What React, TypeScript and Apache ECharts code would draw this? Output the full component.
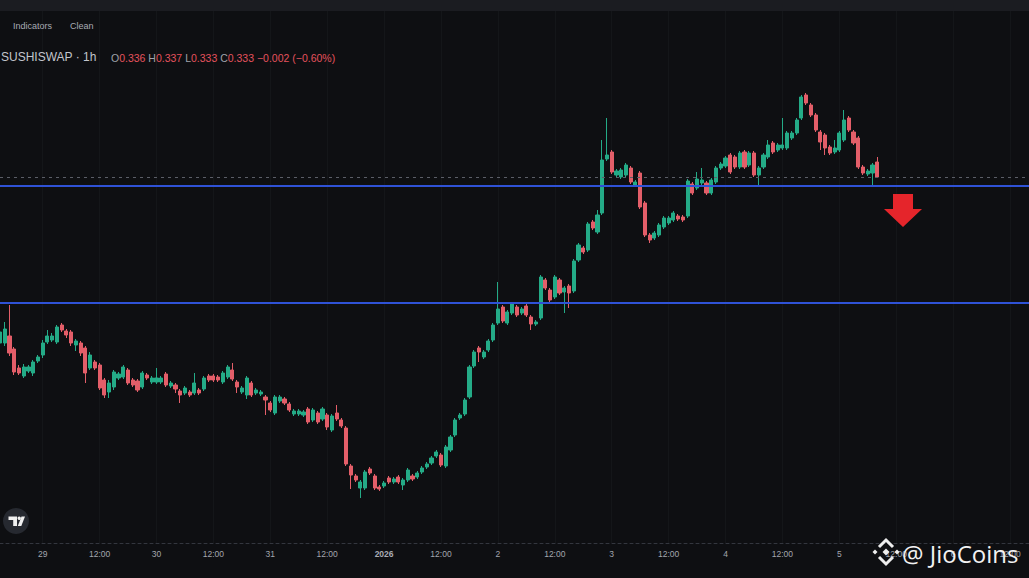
import React, { useEffect, useRef } from 'react';
import * as echarts from 'echarts';

// ---- header texts ----
const SYMBOL = 'SUSHISWAP · 1h';
const TOOLBAR = ['Indicators', 'Clean'];
const HEADER_KEYS = ['O', 'H', 'L', 'C'];
const HEADER_VALS = ['0.336', '0.337', '0.333', '0.333'];
const HEADER_CHANGE = '−0.002 (−0.60%)';

// ---- x axis (hourly slots, first slot = Dec 28 15:00) ----
const TOTAL_SLOTS = 218;
const FIRST_TICK = 9;
const TICK_STEP = 12;
const tickLabels = ['29', '12:00', '30', '12:00', '31', '12:00', '2026', '12:00', '2', '12:00', '3', '12:00', '4', '12:00', '5', '12:00', '6', '12:00'];

// ---- price levels ----
const levelLines = [0.3312, 0.3078];
const lastPrice = 0.333;
const Y_MIN = 0.2598;
const Y_MAX = 0.3684;

// ---- OHLC (1h candles) ----
const opens = [
  0.2998, 0.2998, 0.3012, 0.2986, 0.2948, 0.2932, 0.2942, 0.2938, 0.2962, 0.2974,
  0.3000, 0.3004, 0.3000, 0.3034, 0.3022, 0.3020, 0.2994, 0.2998, 0.2988, 0.2948,
  0.2960, 0.2954, 0.2924, 0.2900, 0.2910, 0.2928, 0.2930, 0.2944, 0.2924, 0.2922,
  0.2910, 0.2934, 0.2920, 0.2920, 0.2920, 0.2936, 0.2912, 0.2914, 0.2902, 0.2898,
  0.2900, 0.2898, 0.2904, 0.2906, 0.2932, 0.2932, 0.2930, 0.2920, 0.2930, 0.2944,
  0.2920, 0.2900, 0.2894, 0.2918, 0.2898, 0.2896, 0.2890, 0.2878, 0.2858, 0.2882,
  0.2886, 0.2876, 0.2856, 0.2856, 0.2854, 0.2866, 0.2844, 0.2858, 0.2846, 0.2854,
  0.2824, 0.2858, 0.2844, 0.2828, 0.2752, 0.2732, 0.2708, 0.2708, 0.2746, 0.2732,
  0.2710, 0.2712, 0.2728, 0.2720, 0.2730, 0.2714, 0.2724, 0.2732, 0.2730, 0.2740,
  0.2750, 0.2758, 0.2772, 0.2774, 0.2752, 0.2784, 0.2814, 0.2848, 0.2856, 0.2890,
  0.2952, 0.2988, 0.2970, 0.2984, 0.3004, 0.3038, 0.3070, 0.3038, 0.3058, 0.3070,
  0.3058, 0.3072, 0.3050, 0.3036, 0.3048, 0.3124, 0.3104, 0.3090, 0.3124, 0.3100,
  0.3112, 0.3102, 0.3164, 0.3188, 0.3184, 0.3240, 0.3220, 0.3258, 0.3366, 0.3380,
  0.3334, 0.3330, 0.3334, 0.3348, 0.3314, 0.3338, 0.3278, 0.3214, 0.3208, 0.3214,
  0.3230, 0.3238, 0.3244, 0.3252, 0.3250, 0.3252, 0.3316, 0.3308, 0.3318, 0.3318,
  0.3298, 0.3320, 0.3348, 0.3352, 0.3374, 0.3370, 0.3350, 0.3380, 0.3354, 0.3378,
  0.3334, 0.3350, 0.3370, 0.3398, 0.3384, 0.3388, 0.3388, 0.3408, 0.3418, 0.3448,
  0.3494, 0.3474, 0.3454, 0.3420, 0.3414, 0.3390, 0.3380, 0.3384, 0.3404, 0.3448,
  0.3420, 0.3408, 0.3350, 0.3336, 0.3338, 0.3360,
];
const closes = [
  0.3020, 0.3026, 0.2978, 0.2940, 0.2938, 0.2950, 0.2950, 0.2960, 0.2970, 0.2998,
  0.3012, 0.3012, 0.3030, 0.3024, 0.3014, 0.2998, 0.3002, 0.2978, 0.2938, 0.2974,
  0.2948, 0.2908, 0.2894, 0.2918, 0.2940, 0.2936, 0.2950, 0.2918, 0.2914, 0.2904,
  0.2938, 0.2928, 0.2928, 0.2928, 0.2928, 0.2914, 0.2918, 0.2906, 0.2894, 0.2908,
  0.2894, 0.2918, 0.2898, 0.2928, 0.2924, 0.2924, 0.2924, 0.2938, 0.2950, 0.2926,
  0.2910, 0.2908, 0.2928, 0.2894, 0.2904, 0.2900, 0.2884, 0.2864, 0.2890, 0.2890,
  0.2878, 0.2864, 0.2862, 0.2862, 0.2860, 0.2840, 0.2864, 0.2840, 0.2866, 0.2830,
  0.2852, 0.2846, 0.2832, 0.2756, 0.2734, 0.2724, 0.2720, 0.2740, 0.2738, 0.2708,
  0.2706, 0.2718, 0.2720, 0.2726, 0.2720, 0.2724, 0.2744, 0.2726, 0.2738, 0.2748,
  0.2756, 0.2768, 0.2780, 0.2754, 0.2790, 0.2810, 0.2844, 0.2854, 0.2884, 0.2950,
  0.2980, 0.2980, 0.2980, 0.3002, 0.3034, 0.3066, 0.3042, 0.3060, 0.3076, 0.3054,
  0.3066, 0.3054, 0.3036, 0.3040, 0.3130, 0.3108, 0.3084, 0.3130, 0.3098, 0.3108,
  0.3098, 0.3162, 0.3194, 0.3180, 0.3236, 0.3228, 0.3254, 0.3364, 0.3374, 0.3340,
  0.3342, 0.3344, 0.3354, 0.3320, 0.3320, 0.3270, 0.3214, 0.3204, 0.3218, 0.3234,
  0.3248, 0.3248, 0.3258, 0.3246, 0.3244, 0.3322, 0.3298, 0.3326, 0.3324, 0.3298,
  0.3324, 0.3348, 0.3356, 0.3368, 0.3340, 0.3350, 0.3378, 0.3350, 0.3378, 0.3334,
  0.3348, 0.3374, 0.3394, 0.3380, 0.3394, 0.3394, 0.3418, 0.3418, 0.3444, 0.3490,
  0.3478, 0.3454, 0.3424, 0.3400, 0.3388, 0.3378, 0.3388, 0.3418, 0.3444, 0.3424,
  0.3398, 0.3350, 0.3338, 0.3342, 0.3354, 0.3330,
];
const lows = [
  0.2994, 0.2992, 0.2972, 0.2934, 0.2934, 0.2928, 0.2938, 0.2932, 0.2958, 0.2968,
  0.2996, 0.3000, 0.2996, 0.3020, 0.3008, 0.2992, 0.2982, 0.2972, 0.2918, 0.2944,
  0.2944, 0.2904, 0.2888, 0.2888, 0.2904, 0.2924, 0.2926, 0.2914, 0.2910, 0.2900,
  0.2906, 0.2924, 0.2916, 0.2916, 0.2916, 0.2910, 0.2908, 0.2898, 0.2878, 0.2894,
  0.2890, 0.2894, 0.2894, 0.2902, 0.2920, 0.2920, 0.2920, 0.2916, 0.2926, 0.2922,
  0.2898, 0.2896, 0.2886, 0.2890, 0.2894, 0.2892, 0.2854, 0.2860, 0.2854, 0.2878,
  0.2874, 0.2860, 0.2852, 0.2852, 0.2850, 0.2836, 0.2840, 0.2836, 0.2842, 0.2824,
  0.2820, 0.2842, 0.2828, 0.2752, 0.2706, 0.2720, 0.2688, 0.2704, 0.2734, 0.2704,
  0.2702, 0.2708, 0.2716, 0.2716, 0.2716, 0.2704, 0.2720, 0.2722, 0.2726, 0.2736,
  0.2746, 0.2754, 0.2768, 0.2750, 0.2748, 0.2780, 0.2810, 0.2844, 0.2852, 0.2886,
  0.2948, 0.2960, 0.2966, 0.2980, 0.3000, 0.3034, 0.3038, 0.3034, 0.3054, 0.3050,
  0.3054, 0.3050, 0.3024, 0.3032, 0.3044, 0.3104, 0.3080, 0.3086, 0.3094, 0.3058,
  0.3068, 0.3098, 0.3160, 0.3176, 0.3180, 0.3224, 0.3216, 0.3254, 0.3362, 0.3336,
  0.3330, 0.3326, 0.3330, 0.3316, 0.3310, 0.3266, 0.3210, 0.3198, 0.3204, 0.3210,
  0.3226, 0.3234, 0.3240, 0.3242, 0.3240, 0.3248, 0.3294, 0.3304, 0.3314, 0.3294,
  0.3294, 0.3316, 0.3344, 0.3348, 0.3336, 0.3346, 0.3346, 0.3346, 0.3350, 0.3330,
  0.3314, 0.3346, 0.3366, 0.3376, 0.3380, 0.3384, 0.3384, 0.3404, 0.3414, 0.3444,
  0.3474, 0.3450, 0.3420, 0.3384, 0.3374, 0.3374, 0.3376, 0.3380, 0.3400, 0.3420,
  0.3394, 0.3346, 0.3334, 0.3332, 0.3314, 0.3330,
];
const highs = [
  0.3028, 0.3040, 0.3074, 0.2990, 0.2954, 0.2956, 0.2954, 0.2964, 0.2974, 0.3004,
  0.3024, 0.3018, 0.3034, 0.3038, 0.3026, 0.3024, 0.3006, 0.3002, 0.2992, 0.2980,
  0.2964, 0.2958, 0.2928, 0.2924, 0.2944, 0.2940, 0.2954, 0.2948, 0.2928, 0.2926,
  0.2942, 0.2938, 0.2932, 0.2948, 0.2932, 0.2940, 0.2922, 0.2918, 0.2906, 0.2912,
  0.2904, 0.2938, 0.2908, 0.2932, 0.2936, 0.2936, 0.2934, 0.2942, 0.2954, 0.2958,
  0.2924, 0.2912, 0.2932, 0.2922, 0.2908, 0.2904, 0.2894, 0.2882, 0.2894, 0.2894,
  0.2890, 0.2880, 0.2866, 0.2866, 0.2864, 0.2870, 0.2868, 0.2862, 0.2870, 0.2858,
  0.2856, 0.2874, 0.2848, 0.2832, 0.2756, 0.2736, 0.2724, 0.2744, 0.2750, 0.2736,
  0.2714, 0.2722, 0.2732, 0.2730, 0.2734, 0.2728, 0.2748, 0.2736, 0.2742, 0.2752,
  0.2760, 0.2772, 0.2784, 0.2778, 0.2794, 0.2814, 0.2848, 0.2858, 0.2888, 0.2954,
  0.2984, 0.2992, 0.2984, 0.3006, 0.3038, 0.3120, 0.3074, 0.3064, 0.3080, 0.3074,
  0.3070, 0.3076, 0.3054, 0.3044, 0.3134, 0.3128, 0.3108, 0.3134, 0.3128, 0.3112,
  0.3116, 0.3166, 0.3198, 0.3192, 0.3240, 0.3244, 0.3264, 0.3404, 0.3448, 0.3384,
  0.3346, 0.3348, 0.3358, 0.3352, 0.3324, 0.3342, 0.3282, 0.3218, 0.3222, 0.3238,
  0.3252, 0.3252, 0.3262, 0.3256, 0.3254, 0.3326, 0.3320, 0.3340, 0.3348, 0.3322,
  0.3328, 0.3352, 0.3360, 0.3372, 0.3378, 0.3374, 0.3382, 0.3384, 0.3382, 0.3382,
  0.3352, 0.3378, 0.3404, 0.3402, 0.3398, 0.3448, 0.3422, 0.3422, 0.3448, 0.3494,
  0.3498, 0.3478, 0.3458, 0.3424, 0.3418, 0.3394, 0.3404, 0.3422, 0.3464, 0.3452,
  0.3424, 0.3412, 0.3354, 0.3346, 0.3358, 0.3370,
];

const UP = '#24ab87';
const DOWN = '#e35e69';
const BG = '#0e0f12';
const FONT = '"Liberation Sans", Roboto, Arial, sans-serif';

const isTick = (i: number) => i >= FIRST_TICK && (i - FIRST_TICK) % TICK_STEP === 0;

export default function App() {
  const ref = useRef<HTMLDivElement>(null);

  useEffect(() => {
    document.body.style.margin = '0';
    if (!ref.current) return;
    const chart = echarts.init(ref.current, undefined, { renderer: 'svg' });

    const categories = Array.from({ length: TOTAL_SLOTS }, (_, i) => String(i));
    const candleData = opens.map((o, i) => [o, closes[i], lows[i], highs[i]]);

    const headerRich =
      HEADER_KEYS.map((k, i) => `{g|${k}}{r|${HEADER_VALS[i]}}`).join(' ') + ` {r|${HEADER_CHANGE}}`;

    chart.setOption({
      animation: false,
      backgroundColor: BG,
      grid: { left: 0, right: 0, top: 0, bottom: 35, containLabel: false },
      xAxis: {
        type: 'category',
        data: categories,
        boundaryGap: false,
        axisLine: { show: true, lineStyle: { color: '#33363e', type: [3, 3], width: 1 } },
        axisTick: { show: false },
        axisLabel: {
          interval: (i: number) => isTick(i),
          formatter: (v: string) => {
            const i = Number(v);
            const lbl = tickLabels[(i - FIRST_TICK) / TICK_STEP] ?? '';
            return lbl === '2026' ? `{b|${lbl}}` : lbl;
          },
          rich: { b: { fontWeight: 'bold', fontSize: 8.5, color: '#a9acb4', fontFamily: FONT } },
          color: '#a3a6ae',
          fontSize: 8.5,
          fontFamily: FONT,
          margin: 6,
        },
        splitLine: { show: true, interval: (i: number) => isTick(i), lineStyle: { color: '#141619', width: 1 } },
      },
      yAxis: { type: 'value', min: Y_MIN, max: Y_MAX, show: false, splitLine: { show: false } },
      series: [
        {
          type: 'candlestick',
          data: candleData,
          barWidth: 3.6,
          itemStyle: { color: UP, color0: DOWN, borderColor: UP, borderColor0: DOWN, borderWidth: 1 },
          markLine: {
            silent: true,
            precision: 4,
            symbol: ['none', 'none'],
            label: { show: false },
            animation: false,
            data: [
              { yAxis: lastPrice, lineStyle: { color: '#5b5e67', type: [3, 4], width: 1 } },
              ...levelLines.map((v) => ({ yAxis: v, lineStyle: { color: '#2f52d6', type: 'solid', width: 2 } })),
            ],
          },
        },
      ],
      graphic: [
        { type: 'rect', shape: { x: 0, y: 0, width: 1029, height: 11 }, style: { fill: '#1b1c21' }, z: 50 },
        {
          type: 'text', x: 13, y: 26, z: 50,
          style: { text: TOOLBAR[0], fill: '#a8abb3', fontSize: 9, fontFamily: FONT, verticalAlign: 'middle' },
        },
        {
          type: 'text', x: 70, y: 26, z: 50,
          style: { text: TOOLBAR[1], fill: '#a8abb3', fontSize: 9, fontFamily: FONT, verticalAlign: 'middle' },
        },
        {
          type: 'text', x: 1, y: 57, z: 50,
          style: { text: SYMBOL, fill: '#c3c6cd', fontSize: 12, fontFamily: FONT, verticalAlign: 'middle' },
        },
        {
          type: 'text', x: 111, y: 58, z: 50,
          style: {
            text: headerRich,
            fontSize: 10.5,
            fontFamily: FONT,
            verticalAlign: 'middle',
            rich: {
              g: { fill: '#9fa2aa', fontSize: 10.5, fontFamily: FONT },
              r: { fill: '#e4525d', fontSize: 10.5, fontFamily: FONT },
            },
          },
        },
        // red down arrow
        {
          type: 'polygon', z: 60,
          shape: { points: [[893, 194], [913, 194], [913, 209], [922, 209], [903, 227], [884, 209], [893, 209]] },
          style: { fill: '#e5252b' },
        },
        // TradingView logo
        { type: 'circle', z: 60, shape: { cx: 16, cy: 521, r: 13 }, style: { fill: '#262930' } },
        {
          type: 'polygon', z: 61,
          shape: { points: [[8.5, 516.5], [17, 516.5], [17, 526], [13.2, 526], [13.2, 520], [8.5, 520]] },
          style: { fill: '#f0f0f0' },
        },
        { type: 'circle', z: 61, shape: { cx: 19.2, cy: 518.2, r: 1.7 }, style: { fill: '#f0f0f0' } },
        {
          type: 'polygon', z: 61,
          shape: { points: [[21.5, 516.5], [25, 516.5], [21.3, 526], [17.8, 526]] },
          style: { fill: '#f0f0f0' },
        },
        // Binance-like watermark logo
        {
          type: 'polyline', z: 100,
          shape: { points: [[879, 547], [886, 540], [893, 547]] },
          style: { stroke: '#eeeeee', lineWidth: 3, fill: 'none' },
        },
        {
          type: 'polyline', z: 100,
          shape: { points: [[879, 557], [886, 564], [893, 557]] },
          style: { stroke: '#eeeeee', lineWidth: 3, fill: 'none' },
        },
        {
          type: 'polygon', z: 100,
          shape: { points: [[886, 548.5], [889.5, 552], [886, 555.5], [882.5, 552]] },
          style: { fill: '#eeeeee' },
        },
        {
          type: 'polygon', z: 100,
          shape: { points: [[875, 549.5], [877.5, 552], [875, 554.5], [872.5, 552]] },
          style: { fill: '#eeeeee' },
        },
        {
          type: 'polygon', z: 100,
          shape: { points: [[897, 549.5], [899.5, 552], [897, 554.5], [894.5, 552]] },
          style: { fill: '#eeeeee' },
        },
        {
          type: 'text', x: 902, y: 553, z: 100,
          style: { text: '@ JioCoins', fill: '#f2f2f2', fontSize: 24, fontFamily: '"Open Sans", "Noto Sans", sans-serif', verticalAlign: 'middle' },
        },
      ],
    });

    return () => chart.dispose();
  }, []);

  return <div ref={ref} style={{ position: 'absolute', left: 0, top: 0, width: 1029, height: 578 }} />;
}
